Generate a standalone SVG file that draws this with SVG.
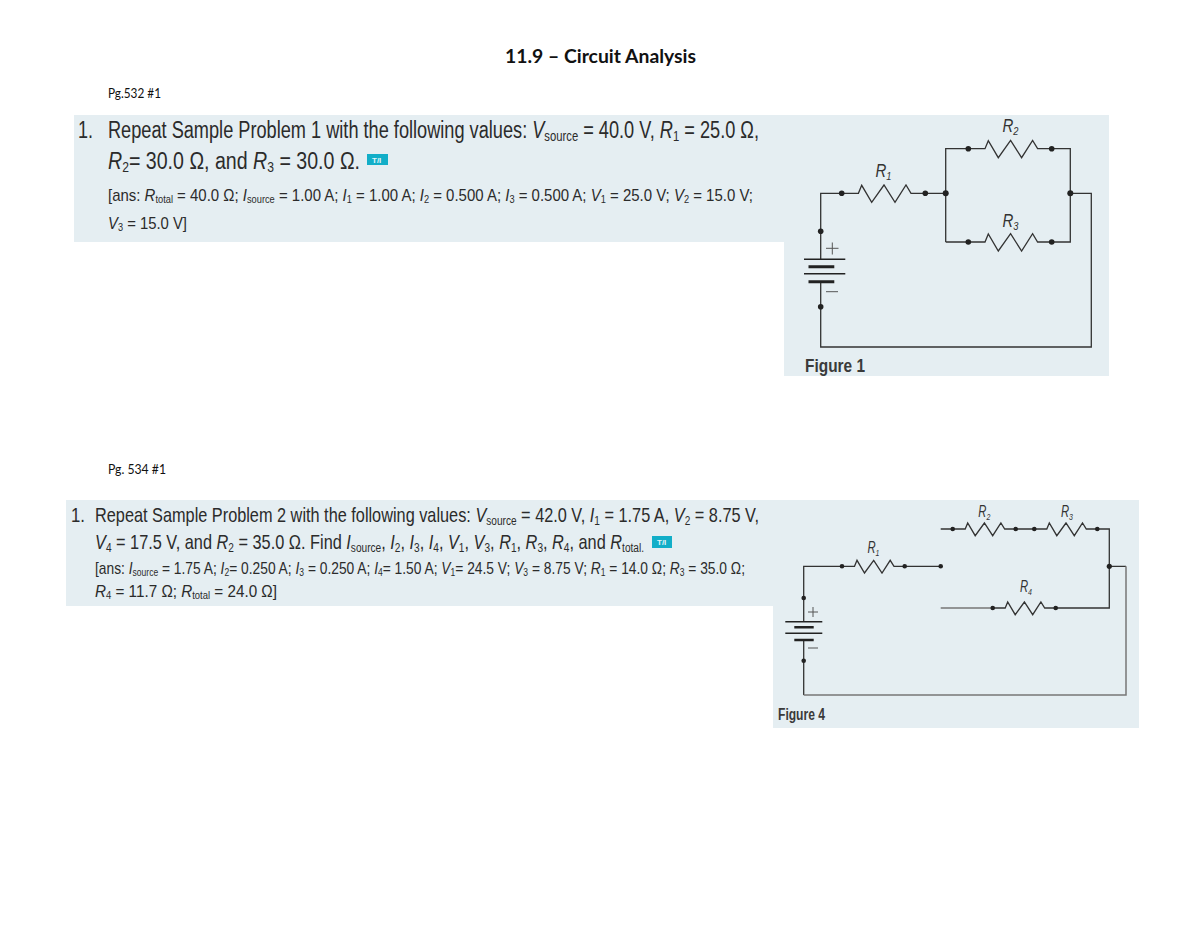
<svg xmlns="http://www.w3.org/2000/svg" width="1200" height="927" viewBox="0 0 1200 927">
<style>
text{font-family:"Liberation Sans",Arial,sans-serif;fill:#2b2b2b}
.doc{font-family:Lato,"Open Sans",sans-serif;fill:#111}
.l1{font-size:23px}
.l2{font-size:21px}
.l3{font-size:17px}
.i{font-style:italic}
.s{font-size:.62em}
.panel{fill:#e5eef2}
.w{fill:none;stroke:#333;stroke-width:1.3}
.g{fill:none;stroke:#777;stroke-width:1.5}
.d{fill:#222}
.p{stroke:#222;fill:none}
.badge{fill:#12aec8}
.bt{font-size:8px;font-weight:bold;fill:#e5f5f8}
.rl{font-style:italic;fill:#333}
.fig{font-weight:bold;fill:#3a3a3a}
</style>
<defs>
<path id="res1" class="w" d="M0 0H16.7L20 -8L30 9L42.3 -8.3L53.3 9L64.3 -8.3L69.3 0H83.6"/>
<path id="res2" class="w" d="M0 0H12.5L15 -6L22.5 6.7L31.7 -6L40 6.7L48.2 -6L52 0H62.7"/>
</defs>
<rect width="1200" height="927" fill="#fff"/>
<g id="page-text">
<text class="doc" x="505" y="63" font-size="18" font-weight="700" textLength="191" lengthAdjust="spacingAndGlyphs">11.9 – Circuit Analysis</text>
<text class="doc" x="108" y="98" font-size="13" textLength="53" lengthAdjust="spacingAndGlyphs">Pg.532 #1</text>
<text class="doc" x="108" y="474" font-size="13" textLength="58" lengthAdjust="spacingAndGlyphs">Pg. 534 #1</text>
</g>
<g id="problem-1">
<rect class="panel" x="74" y="115" width="711" height="127"/>
<text class="l1" x="78" y="138" textLength="15" lengthAdjust="spacingAndGlyphs">1.</text>
<text class="l1" x="108" y="138" textLength="651" lengthAdjust="spacingAndGlyphs">Repeat Sample Problem 1 with the following values: <tspan class="i">V</tspan><tspan class="s" dy="3">source</tspan><tspan dy="-3"> = 40.0 V, </tspan><tspan class="i">R</tspan><tspan class="s" dy="3">1</tspan><tspan dy="-3"> = 25.0 Ω,</tspan></text>
<text class="l1" x="108" y="169" textLength="252" lengthAdjust="spacingAndGlyphs"><tspan class="i">R</tspan><tspan class="s" dy="3">2</tspan><tspan dy="-3">= 30.0 Ω, and </tspan><tspan class="i">R</tspan><tspan class="s" dy="3">3</tspan><tspan dy="-3"> = 30.0 Ω.</tspan></text>
<rect class="badge" x="367" y="154" width="21" height="11"/>
<text class="bt" x="372" y="163">T/I</text>
<text class="l3" x="108" y="201" textLength="645" lengthAdjust="spacingAndGlyphs">[ans: <tspan class="i">R</tspan><tspan class="s" dy="2">total</tspan><tspan dy="-2"> = 40.0 Ω; </tspan><tspan class="i">I</tspan><tspan class="s" dy="2">source</tspan><tspan dy="-2"> = 1.00 A; </tspan><tspan class="i">I</tspan><tspan class="s" dy="2">1</tspan><tspan dy="-2"> = 1.00 A; </tspan><tspan class="i">I</tspan><tspan class="s" dy="2">2</tspan><tspan dy="-2"> = 0.500 A; </tspan><tspan class="i">I</tspan><tspan class="s" dy="2">3</tspan><tspan dy="-2"> = 0.500 A; </tspan><tspan class="i">V</tspan><tspan class="s" dy="2">1</tspan><tspan dy="-2"> = 25.0 V; </tspan><tspan class="i">V</tspan><tspan class="s" dy="2">2</tspan><tspan dy="-2"> = 15.0 V;</tspan></text>
<text class="l3" x="108" y="229" textLength="79" lengthAdjust="spacingAndGlyphs"><tspan class="i">V</tspan><tspan class="s" dy="2">3</tspan><tspan dy="-2"> = 15.0 V]</tspan></text>
</g>
<g id="figure-1">
<rect class="panel" x="784" y="115" width="325" height="261"/>
<g id="connectors-1">
<path class="w" d="M842 193.3H820.7V259M820.7 282V347H1091.3V193.3H1070.3M925.3 193.3H945.7M945.7 242V148.7H968.3M1051.7 148.7H1070.3V242H1051.7M968.3 242H945.7"/>
</g>
<g id="fig1-battery">
<path class="p" stroke-width="1.6" d="M804 259.3H845.3M804 273.7H845.3"/>
<path class="p" stroke-width="3" d="M808.5 266.7H834.3M808.5 281.7H834.3"/>
<path d="M826 248.3H838.5M832.3 242.5V254.5M826 291.7H838" stroke="#555" stroke-width="1" fill="none"/>
<circle class="d" cx="820.7" cy="231.3" r="2.8"/><circle class="d" cx="820.7" cy="306.7" r="2.8"/>
</g>
<g id="fig1-R1"><use href="#res1" x="841.7" y="193.3"/><circle class="d" cx="841.7" cy="193.3" r="2.8"/><circle class="d" cx="925.3" cy="193.3" r="2.8"/><text class="rl" x="875.5" y="176.5" font-size="19" textLength="16" lengthAdjust="spacingAndGlyphs">R<tspan class="s" dy="3">1</tspan></text></g>
<g id="fig1-R2"><use href="#res1" x="968.3" y="148.7"/><circle class="d" cx="968.3" cy="148.7" r="2.8"/><circle class="d" cx="1051.7" cy="148.7" r="2.8"/><text class="rl" x="1002.5" y="131.5" font-size="19" textLength="16" lengthAdjust="spacingAndGlyphs">R<tspan class="s" dy="3">2</tspan></text></g>
<g id="fig1-R3"><use href="#res1" x="968.3" y="242"/><circle class="d" cx="968.3" cy="242" r="2.8"/><circle class="d" cx="1051.7" cy="242" r="2.8"/><text class="rl" x="1002.5" y="226.5" font-size="19" textLength="16" lengthAdjust="spacingAndGlyphs">R<tspan class="s" dy="3">3</tspan></text></g>
<g id="fig1-junctions"><circle class="d" cx="945.7" cy="193.3" r="3"/><circle class="d" cx="1070.3" cy="193.3" r="3"/></g>
<text class="fig" x="805" y="372" font-size="19" textLength="60" lengthAdjust="spacingAndGlyphs">Figure 1</text>
</g>
<g id="problem-2">
<rect class="panel" x="66" y="500" width="707" height="106"/>
<text class="l2" x="71" y="522" textLength="14" lengthAdjust="spacingAndGlyphs">1.</text>
<text class="l2" x="95" y="522" textLength="664" lengthAdjust="spacingAndGlyphs">Repeat Sample Problem 2 with the following values: <tspan class="i">V</tspan><tspan class="s" dy="3">source</tspan><tspan dy="-3"> = 42.0 V, </tspan><tspan class="i">I</tspan><tspan class="s" dy="3">1</tspan><tspan dy="-3"> = 1.75 A, </tspan><tspan class="i">V</tspan><tspan class="s" dy="3">2</tspan><tspan dy="-3"> = 8.75 V,</tspan></text>
<text class="l2" x="95" y="549" textLength="549" lengthAdjust="spacingAndGlyphs"><tspan class="i">V</tspan><tspan class="s" dy="3">4</tspan><tspan dy="-3"> = 17.5 V, and </tspan><tspan class="i">R</tspan><tspan class="s" dy="3">2</tspan><tspan dy="-3"> = 35.0 Ω. Find </tspan><tspan class="i">I</tspan><tspan class="s" dy="3">source</tspan><tspan dy="-3">, </tspan><tspan class="i">I</tspan><tspan class="s" dy="3">2</tspan><tspan dy="-3">, </tspan><tspan class="i">I</tspan><tspan class="s" dy="3">3</tspan><tspan dy="-3">, </tspan><tspan class="i">I</tspan><tspan class="s" dy="3">4</tspan><tspan dy="-3">, </tspan><tspan class="i">V</tspan><tspan class="s" dy="3">1</tspan><tspan dy="-3">, </tspan><tspan class="i">V</tspan><tspan class="s" dy="3">3</tspan><tspan dy="-3">, </tspan><tspan class="i">R</tspan><tspan class="s" dy="3">1</tspan><tspan dy="-3">, </tspan><tspan class="i">R</tspan><tspan class="s" dy="3">3</tspan><tspan dy="-3">, </tspan><tspan class="i">R</tspan><tspan class="s" dy="3">4</tspan><tspan dy="-3">, and </tspan><tspan class="i">R</tspan><tspan class="s" dy="3">total.</tspan></text>
<rect class="badge" x="652" y="536" width="20" height="12"/>
<text class="bt" x="657" y="545">T/I</text>
<text class="l3" x="95" y="574" textLength="650" lengthAdjust="spacingAndGlyphs">[ans: <tspan class="i">I</tspan><tspan class="s" dy="2">source</tspan><tspan dy="-2"> = 1.75 A; </tspan><tspan class="i">I</tspan><tspan class="s" dy="2">2</tspan><tspan dy="-2">= 0.250 A; </tspan><tspan class="i">I</tspan><tspan class="s" dy="2">3</tspan><tspan dy="-2"> = 0.250 A; </tspan><tspan class="i">I</tspan><tspan class="s" dy="2">4</tspan><tspan dy="-2">= 1.50 A; </tspan><tspan class="i">V</tspan><tspan class="s" dy="2">1</tspan><tspan dy="-2">= 24.5 V; </tspan><tspan class="i">V</tspan><tspan class="s" dy="2">3</tspan><tspan dy="-2"> = 8.75 V; </tspan><tspan class="i">R</tspan><tspan class="s" dy="2">1</tspan><tspan dy="-2"> = 14.0 Ω; </tspan><tspan class="i">R</tspan><tspan class="s" dy="2">3</tspan><tspan dy="-2"> = 35.0 Ω;</tspan></text>
<text class="l3" x="95" y="597" textLength="182" lengthAdjust="spacingAndGlyphs"><tspan class="i">R</tspan><tspan class="s" dy="2">4</tspan><tspan dy="-2"> = 11.7 Ω; </tspan><tspan class="i">R</tspan><tspan class="s" dy="2">total</tspan><tspan dy="-2"> = 24.0 Ω]</tspan></text>
</g>
<g id="figure-4">
<rect class="panel" x="773" y="500" width="366" height="228"/>
<g id="connectors-4">
<path class="w" d="M842 566.3H803.7V621.7M803.7 640V695M1126 566.3H1109.3M904.7 566.3H940.7M940.7 529H952.7M1015.7 529H1034.3M1097.3 529H1109.3V608H1055.7"/>
<path class="g" d="M803.7 695H1126V566.3M992.7 608H940.7"/>
</g>
<g id="fig4-battery">
<path class="p" stroke-width="1.5" d="M785.3 621.7H822.3M785.3 633.3H822.3"/>
<path class="p" stroke-width="2.5" d="M794.3 627.3H813.7M794.3 640H813.7"/>
<path d="M808 612H818M813 607V617M808 648H818" stroke="#555" stroke-width="1" fill="none"/>
<circle class="d" cx="803.7" cy="598" r="2.3"/><circle class="d" cx="803.7" cy="660.7" r="2.3"/>
</g>
<g id="fig4-R1"><use href="#res2" x="842" y="566.3"/><circle class="d" cx="842" cy="566.3" r="2.3"/><circle class="d" cx="904.7" cy="566.3" r="2.3"/><text class="rl" x="867.5" y="553" font-size="16" textLength="12" lengthAdjust="spacingAndGlyphs">R<tspan class="s" dy="3">1</tspan></text></g>
<g id="fig4-R2"><use href="#res2" x="952.7" y="529"/><circle class="d" cx="952.7" cy="529" r="2.3"/><circle class="d" cx="1015.7" cy="529" r="2.3"/><text class="rl" x="978.3" y="516.5" font-size="16" textLength="12" lengthAdjust="spacingAndGlyphs">R<tspan class="s" dy="3">2</tspan></text></g>
<g id="fig4-R3"><use href="#res2" x="1034.3" y="529"/><circle class="d" cx="1034.3" cy="529" r="2.3"/><circle class="d" cx="1097.3" cy="529" r="2.3"/><text class="rl" x="1061" y="516.5" font-size="16" textLength="12" lengthAdjust="spacingAndGlyphs">R<tspan class="s" dy="3">3</tspan></text></g>
<g id="fig4-R4"><use href="#res2" x="992.7" y="608"/><circle class="d" cx="992.7" cy="608" r="2.3"/><circle class="d" cx="1055.7" cy="608" r="2.3"/><text class="rl" x="1020" y="592.3" font-size="16" textLength="12" lengthAdjust="spacingAndGlyphs">R<tspan class="s" dy="3">4</tspan></text></g>
<g id="fig4-junctions"><circle class="d" cx="940.7" cy="566.3" r="2.3"/><circle class="d" cx="1109.3" cy="566.3" r="2.6"/></g>
<text class="fig" x="778" y="720" font-size="16" textLength="47" lengthAdjust="spacingAndGlyphs">Figure 4</text>
</g>
</svg>
